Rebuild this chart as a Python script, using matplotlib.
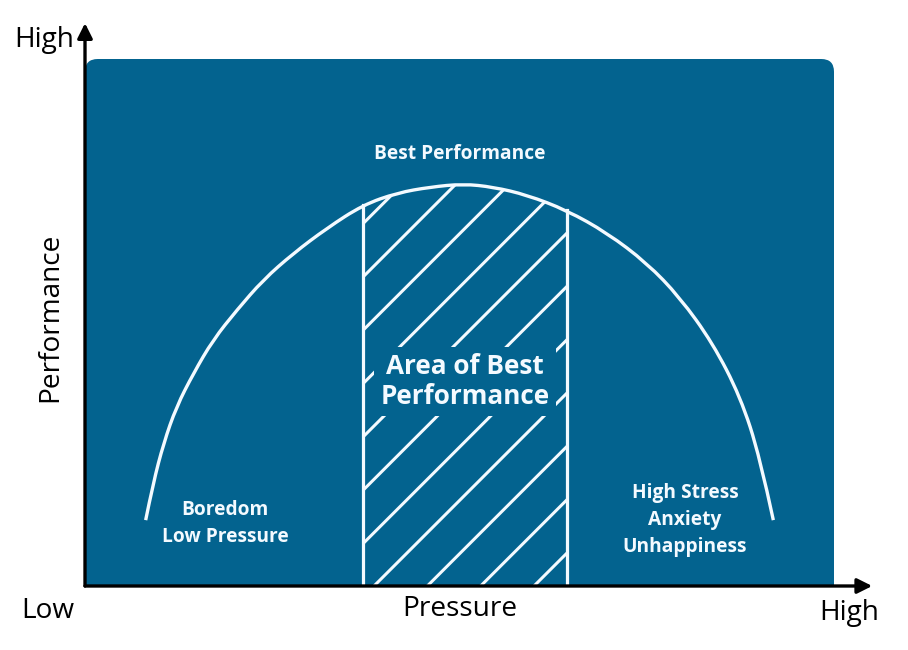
import numpy as np
import matplotlib.pyplot as plt
from matplotlib.patches import FancyBboxPatch, PathPatch
from matplotlib.path import Path

# ----------------------------
# Data
# pressure 0..10, performance 0..10
# ----------------------------
pressure = [0.81, 0.91, 1.05, 1.22, 1.45, 1.71, 2.03, 2.38, 2.78, 3.23, 3.71, 4.17,
            4.61, 5.05, 5.45, 5.90, 6.43, 6.97, 7.50, 7.94, 8.38, 8.75, 9.01, 9.19]
performance = [1.25, 1.95, 2.71, 3.40, 4.04, 4.67, 5.24, 5.81, 6.31, 6.79, 7.23, 7.46,
               7.57, 7.63, 7.57, 7.42, 7.13, 6.70, 6.13, 5.48, 4.61, 3.59, 2.45, 1.25]
best_lo, best_hi = 3.71, 6.43   # edges of the "area of best performance"

zone_labels = ["Boredom\nLow Pressure", "Area of Best\nPerformance", "High Stress\nAnxiety\nUnhappiness"]
zone_pos = [(1.87, 1.19), (5.07, 3.88), (8.01, 1.25)]
peak_label = "Best Performance"
axis_ends = ["Low", "High", "High"]

BLUE = "#03638f"
WHITE = "#f4faff"

# dpi chosen so the hatch spacing matches the reference
DPI = 320
plt.rcParams['font.family'] = ['Open Sans', 'DejaVu Sans']
plt.rcParams['hatch.linewidth'] = 0.68
plt.rcParams['hatch.color'] = WHITE

fig = plt.figure(figsize=(908 / DPI, 650 / DPI), dpi=DPI)
ax = fig.add_axes([85 / 908, 1 - 586 / 650, 749 / 908, 527 / 650])
ax.set_xlim(0, 10)
ax.set_ylim(0, 10)
ax.axis("off")

# blue background panel (bottom corners clipped away by the axes)
panel = FancyBboxPatch((0, -1), 10, 11, boxstyle="round,pad=0,rounding_size=0.17",
                       facecolor=BLUE, edgecolor="none", mutation_aspect=1.42,
                       clip_on=True, zorder=0)
ax.add_patch(panel)

x = np.array(pressure)
y = np.array(performance)

# hatched zone under the curve
sel = (x >= best_lo - 1e-9) & (x <= best_hi + 1e-9)
ax.fill_between(x[sel], 0, y[sel], facecolor="none", edgecolor=WHITE,
                hatch="//", linewidth=0, zorder=1)

# curve: read points used as quadratic bezier controls so it draws smooth
pts = np.column_stack([x, y])
verts = [pts[0]]
codes = [Path.MOVETO]
for i in range(1, len(pts) - 1):
    end = pts[-1] if i == len(pts) - 2 else (pts[i] + pts[i + 1]) / 2
    verts += [pts[i], end]
    codes += [Path.CURVE3, Path.CURVE3]
curve = PathPatch(Path(verts, codes), facecolor="none", edgecolor=WHITE, lw=0.75,
                  capstyle="butt", zorder=3)
ax.add_patch(curve)

ax.plot([best_lo, best_lo], [0, y[x == best_lo][0]], color=WHITE, lw=0.72, zorder=3)
ax.plot([best_hi, best_hi], [0, y[x == best_hi][0]], color=WHITE, lw=0.72, zorder=3)

# labels inside the panel
ax.text(*zone_pos[0], zone_labels[0], color=WHITE, fontsize=4.3, fontweight="bold",
        ha="center", va="center", linespacing=1.45, zorder=4)
ax.text(*zone_pos[1], zone_labels[1], color=WHITE, fontsize=5.9, fontweight="bold",
        ha="center", va="center", linespacing=1.15, zorder=4,
        bbox=dict(facecolor=BLUE, edgecolor="none", pad=1.4))
ax.text(*zone_pos[2], zone_labels[2], color=WHITE, fontsize=4.3, fontweight="bold",
        ha="center", va="center", linespacing=1.45, zorder=4)
ax.text(5.0, 8.2, peak_label, color=WHITE, fontsize=4.3, fontweight="bold",
        ha="center", va="center", zorder=4)

# axes with arrows
arrow = dict(arrowstyle="-|>", color="black", lw=0.75, mutation_scale=7, shrinkA=0, shrinkB=0)
ax.annotate("", xy=(0, 10.68), xytext=(0, 0), arrowprops=arrow, annotation_clip=False)
ax.annotate("", xy=(10.51, 0), xytext=(0, 0), arrowprops=arrow, annotation_clip=False)

ax.text(-0.14, 10.36, axis_ends[1], fontsize=6.3, ha="right", va="center", clip_on=False)
ax.text(-0.85, -0.47, axis_ends[0], fontsize=6.3, ha="left", va="center", clip_on=False)
ax.text(10.6, -0.52, axis_ends[2], fontsize=6.3, ha="right", va="center", clip_on=False)
ax.text(5.0, -0.43, "Pressure", fontsize=6.3, ha="center", va="center", clip_on=False)
ax.text(-0.47, 5.1, "Performance", fontsize=6.3, rotation=90, ha="center", va="center",
        clip_on=False)

fig.savefig("out.png", dpi=DPI, facecolor="white")
